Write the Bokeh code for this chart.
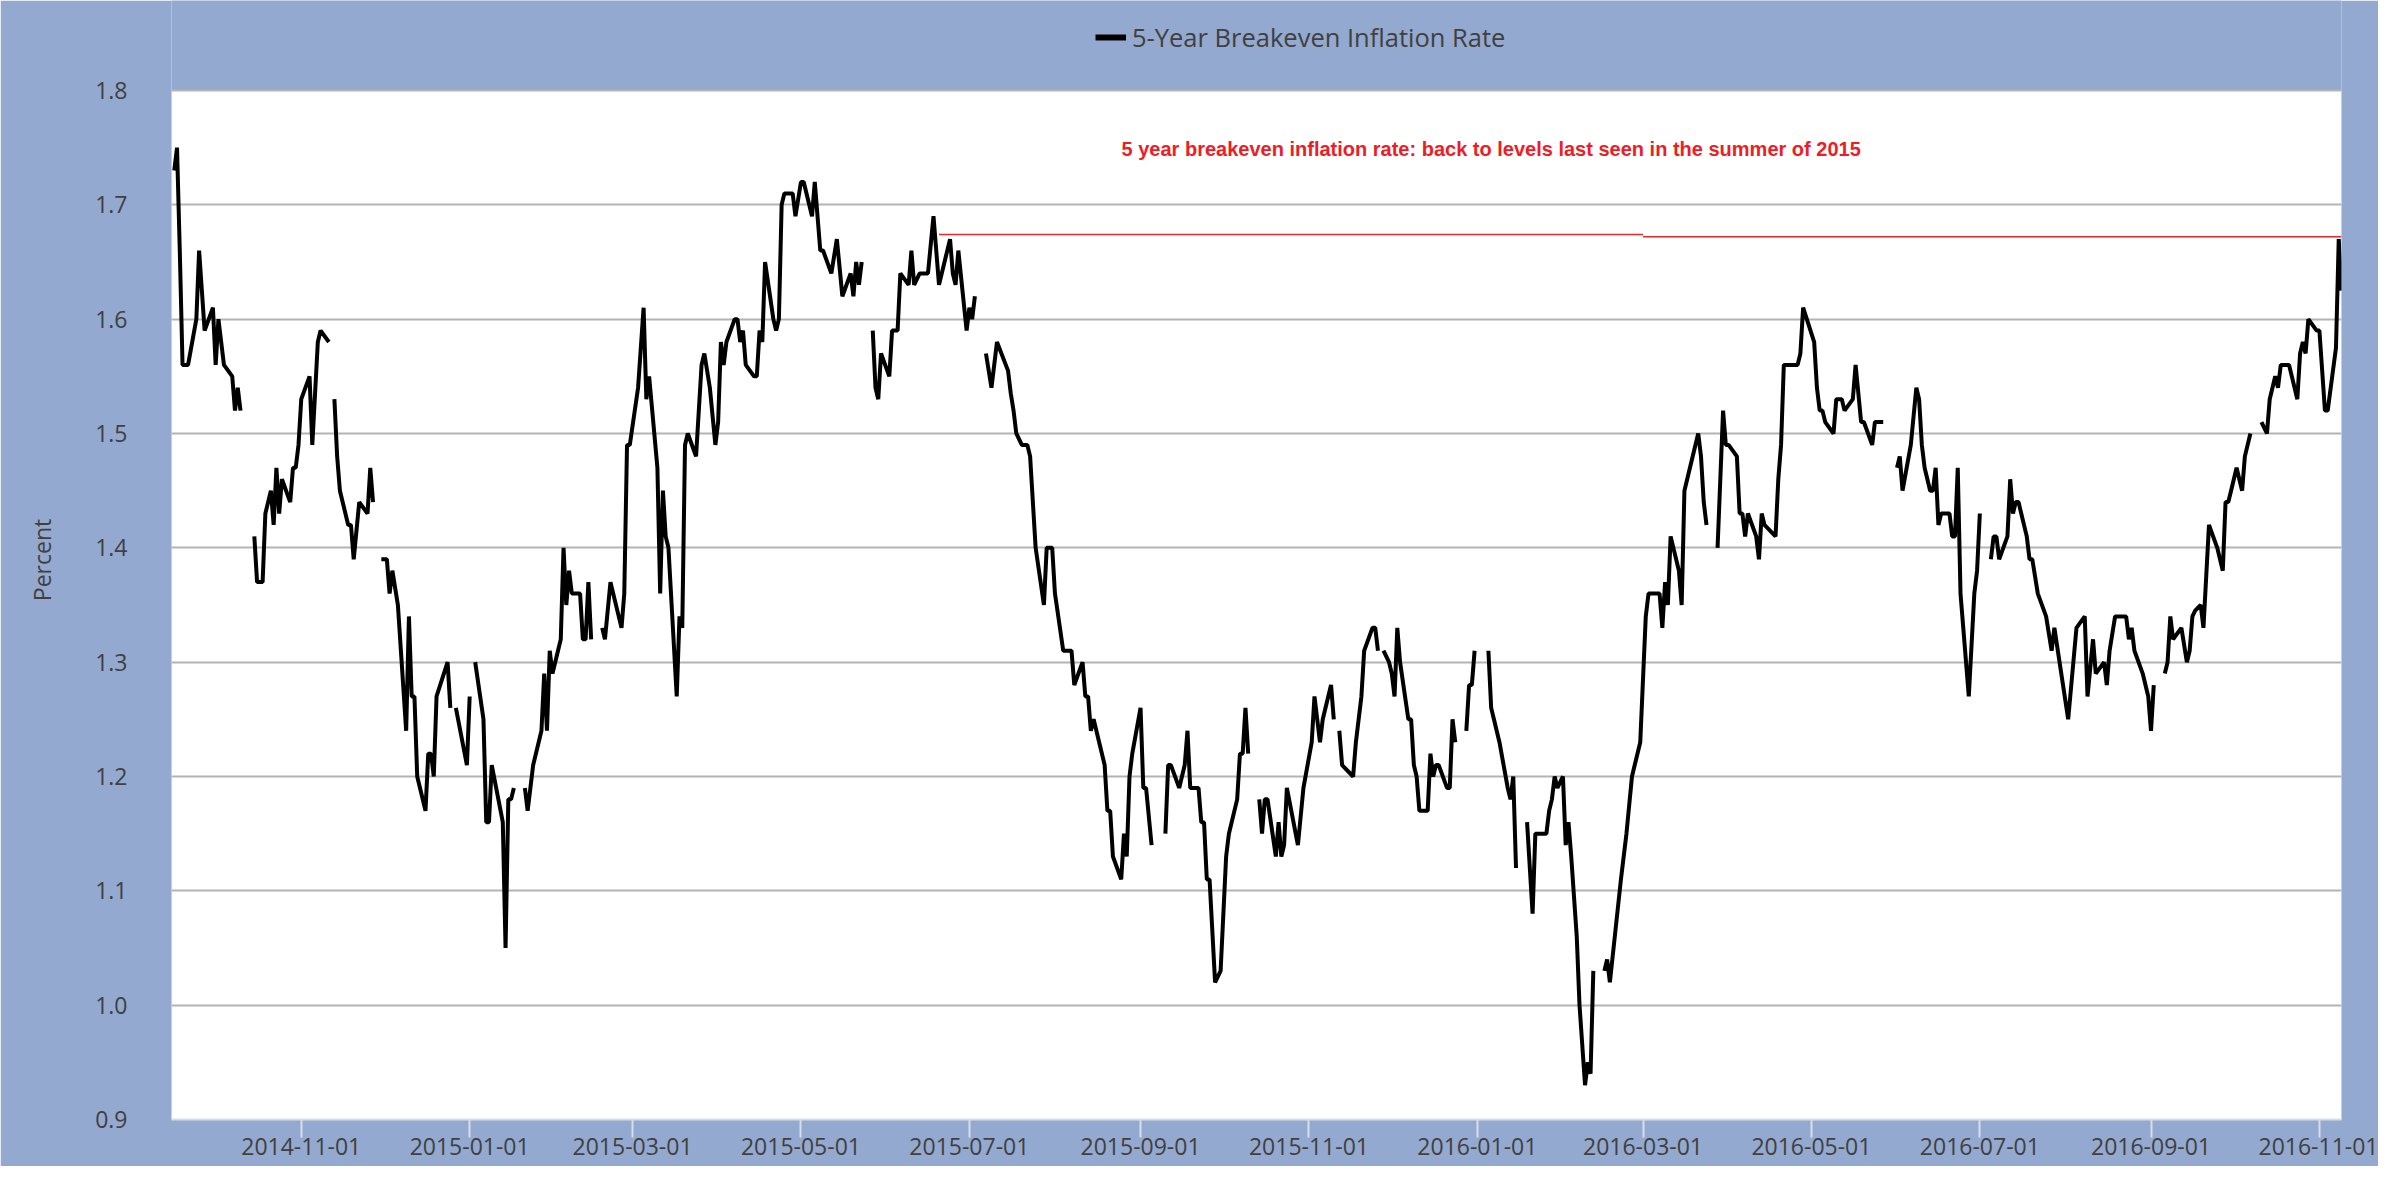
import numpy as np
import pandas as pd
from bokeh.plotting import figure
from bokeh.models import (Range1d, FixedTicker, DatetimeTickFormatter, PrintfTickFormatter,
                          Legend, LegendItem, Label, BoxAnnotation)
from bokeh.embed import file_html
from bokeh.resources import INLINE

# 5-year breakeven inflation rate (None = missing day, line breaks)
dates_2014 = [
    "2014-09-16", "2014-09-17", "2014-09-18", "2014-09-19", "2014-09-21", "2014-09-24",
    "2014-09-25", "2014-09-27", "2014-09-30", "2014-10-01", "2014-10-02", "2014-10-04",
    "2014-10-07", "2014-10-08", "2014-10-09", "2014-10-10", "2014-10-12", "2014-10-15",
    "2014-10-16", "2014-10-18", "2014-10-19", "2014-10-21", "2014-10-22", "2014-10-23",
    "2014-10-24", "2014-10-25", "2014-10-28", "2014-10-29", "2014-10-30", "2014-10-31",
    "2014-11-01", "2014-11-04", "2014-11-05", "2014-11-07", "2014-11-08", "2014-11-11",
    "2014-11-12", "2014-11-13", "2014-11-14", "2014-11-15", "2014-11-18", "2014-11-19",
    "2014-11-20", "2014-11-22", "2014-11-25", "2014-11-26", "2014-11-27", "2014-11-28",
    "2014-11-30", "2014-12-02", "2014-12-03", "2014-12-04", "2014-12-06", "2014-12-09",
    "2014-12-10", "2014-12-11", "2014-12-12", "2014-12-13", "2014-12-16", "2014-12-17",
    "2014-12-18", "2014-12-19", "2014-12-20", "2014-12-24", "2014-12-25", "2014-12-26",
    "2014-12-27", "2014-12-31",
]
rate_2014 = [
    1.73, 1.75, 1.66, 1.56, 1.56, 1.60,
    1.66, 1.59, 1.61, 1.56, 1.60, 1.56,
    1.55, 1.52, 1.54, 1.52, None, 1.41,
    1.37, 1.37, 1.43, 1.45, 1.42, 1.47,
    1.43, 1.46, 1.44, 1.47, 1.47, 1.49,
    1.53, 1.55, 1.49, 1.58, 1.59, 1.58,
    None, 1.53, 1.48, 1.45, 1.42, 1.42,
    1.39, 1.44, 1.43, 1.47, 1.44, None,
    1.39, 1.39, 1.36, 1.38, 1.35, 1.24,
    1.34, 1.27, 1.27, 1.20, 1.17, 1.22,
    1.22, 1.20, 1.27, 1.30, 1.26, None,
    1.26, 1.21,
]

dates_2015 = [
    "2015-01-01", "2015-01-02", "2015-01-03", "2015-01-06", "2015-01-07", "2015-01-08",
    "2015-01-09", "2015-01-13", "2015-01-14", "2015-01-15", "2015-01-16", "2015-01-17",
    "2015-01-19", "2015-01-21", "2015-01-22", "2015-01-24", "2015-01-27", "2015-01-28",
    "2015-01-29", "2015-01-30", "2015-01-31", "2015-02-03", "2015-02-04", "2015-02-05",
    "2015-02-06", "2015-02-07", "2015-02-10", "2015-02-11", "2015-02-12", "2015-02-13",
    "2015-02-14", "2015-02-16", "2015-02-18", "2015-02-19", "2015-02-21", "2015-02-25",
    "2015-02-26", "2015-02-27", "2015-02-28", "2015-03-03", "2015-03-05", "2015-03-06",
    "2015-03-07", "2015-03-10", "2015-03-11", "2015-03-12", "2015-03-13", "2015-03-14",
    "2015-03-17", "2015-03-18", "2015-03-19", "2015-03-20", "2015-03-21", "2015-03-24",
    "2015-03-26", "2015-03-27", "2015-03-29", "2015-03-31", "2015-04-01", "2015-04-02",
    "2015-04-03", "2015-04-04", "2015-04-07", "2015-04-08", "2015-04-09", "2015-04-10",
    "2015-04-11", "2015-04-14", "2015-04-15", "2015-04-16", "2015-04-17", "2015-04-18",
    "2015-04-21", "2015-04-22", "2015-04-23", "2015-04-24", "2015-04-25", "2015-04-28",
    "2015-04-29", "2015-05-01", "2015-05-02", "2015-05-05", "2015-05-06", "2015-05-08",
    "2015-05-09", "2015-05-12", "2015-05-14", "2015-05-16", "2015-05-19", "2015-05-20",
    "2015-05-21", "2015-05-22", "2015-05-23", "2015-05-25", "2015-05-27", "2015-05-28",
    "2015-05-29", "2015-05-30", "2015-06-02", "2015-06-03", "2015-06-05", "2015-06-06",
    "2015-06-09", "2015-06-10", "2015-06-11", "2015-06-13", "2015-06-16", "2015-06-18",
    "2015-06-20", "2015-06-22", "2015-06-24", "2015-06-25", "2015-06-26", "2015-06-27",
    "2015-06-30", "2015-07-01", "2015-07-02", "2015-07-03", "2015-07-05", "2015-07-07",
    "2015-07-09", "2015-07-11", "2015-07-15", "2015-07-16", "2015-07-17", "2015-07-18",
    "2015-07-20", "2015-07-22", "2015-07-23", "2015-07-25", "2015-07-28", "2015-07-29",
    "2015-07-31", "2015-08-01", "2015-08-04", "2015-08-07", "2015-08-08", "2015-08-11",
    "2015-08-12", "2015-08-13", "2015-08-14", "2015-08-15", "2015-08-19", "2015-08-20",
    "2015-08-21", "2015-08-22", "2015-08-25", "2015-08-26", "2015-08-27", "2015-08-28",
    "2015-08-29", "2015-09-01", "2015-09-02", "2015-09-03", "2015-09-05", "2015-09-07",
    "2015-09-10", "2015-09-11", "2015-09-12", "2015-09-15", "2015-09-17", "2015-09-18",
    "2015-09-19", "2015-09-22", "2015-09-23", "2015-09-24", "2015-09-25", "2015-09-26",
    "2015-09-28", "2015-09-30", "2015-10-02", "2015-10-03", "2015-10-06", "2015-10-07",
    "2015-10-08", "2015-10-09", "2015-10-10", "2015-10-12", "2015-10-14", "2015-10-15",
    "2015-10-16", "2015-10-17", "2015-10-20", "2015-10-21", "2015-10-22", "2015-10-23",
    "2015-10-24", "2015-10-28", "2015-10-30", "2015-11-02", "2015-11-03", "2015-11-05",
    "2015-11-06", "2015-11-09", "2015-11-10", "2015-11-11", "2015-11-12", "2015-11-13",
    "2015-11-17", "2015-11-18", "2015-11-20", "2015-11-21", "2015-11-24", "2015-11-25",
    "2015-11-26", "2015-11-27", "2015-11-28", "2015-11-30", "2015-12-01", "2015-12-02",
    "2015-12-03", "2015-12-04", "2015-12-07", "2015-12-08", "2015-12-09", "2015-12-10",
    "2015-12-11", "2015-12-14", "2015-12-15", "2015-12-16", "2015-12-17", "2015-12-18",
    "2015-12-21", "2015-12-22", "2015-12-23", "2015-12-24", "2015-12-26", "2015-12-28",
    "2015-12-29", "2015-12-30", "2015-12-31",
]
rate_2015 = [
    1.27, None, 1.30, 1.25, 1.16, 1.16,
    1.21, 1.16, 1.05, 1.18, 1.18, 1.19,
    None, 1.19, 1.17, 1.21, 1.24, 1.29,
    1.24, 1.31, 1.29, 1.32, 1.40, 1.35,
    1.38, 1.36, 1.36, 1.32, 1.32, 1.37,
    1.32, None, 1.33, 1.32, 1.37, 1.33,
    1.36, 1.49, 1.49, 1.54, 1.61, 1.53,
    1.55, 1.47, 1.36, 1.45, 1.41, 1.40,
    1.27, 1.34, 1.33, 1.49, 1.50, 1.48,
    1.56, 1.57, 1.54, 1.49, 1.51, 1.58,
    1.56, 1.58, 1.60, 1.60, 1.58, 1.59,
    1.56, 1.55, 1.55, 1.59, 1.58, 1.65,
    1.60, 1.59, 1.60, 1.70, 1.71, 1.71,
    1.69, 1.72, 1.72, 1.69, 1.72, 1.66,
    1.66, 1.64, 1.67, 1.62, 1.64, 1.62,
    1.65, 1.63, 1.65, None, 1.59, 1.54,
    1.53, 1.57, 1.55, 1.59, 1.59, 1.64,
    1.63, 1.66, 1.63, 1.64, 1.64, 1.69,
    1.63, 1.65, 1.67, 1.64, 1.63, 1.66,
    1.59, 1.61, 1.60, 1.62, None, 1.57,
    1.54, 1.58, 1.555, 1.535, 1.52, 1.50,
    1.49, 1.49, 1.48, 1.40, 1.35, 1.40,
    1.40, 1.36, 1.31, 1.31, 1.28, 1.30,
    1.27, 1.27, 1.24, 1.25, 1.21, 1.17,
    1.17, 1.13, 1.11, 1.15, 1.13, 1.20,
    1.22, 1.26, 1.19, 1.19, 1.14, None,
    1.15, 1.21, 1.21, 1.19, 1.21, 1.24,
    1.19, 1.19, 1.16, 1.16, 1.11, 1.11,
    1.02, 1.03, 1.13, 1.15, 1.18, 1.22,
    1.22, 1.26, 1.22, None, 1.18, 1.15,
    1.18, 1.18, 1.13, 1.16, 1.13, 1.14,
    1.19, 1.14, 1.19, 1.23, 1.27, 1.23,
    1.25, 1.28, 1.25, None, 1.24, 1.21,
    1.20, 1.23, 1.27, 1.31, 1.33, 1.33,
    1.31, None, 1.31, 1.30, 1.29, 1.27,
    1.33, 1.30, 1.25, 1.25, 1.21, 1.20,
    1.17, 1.17, 1.22, 1.20, 1.21, 1.21,
    1.19, 1.19, 1.25, 1.23, None, 1.24,
    1.28, 1.28, 1.31,
]

dates_2016 = [
    "2016-01-02", "2016-01-05", "2016-01-06", "2016-01-07", "2016-01-09", "2016-01-12",
    "2016-01-13", "2016-01-14", "2016-01-15", "2016-01-17", "2016-01-19", "2016-01-21",
    "2016-01-22", "2016-01-26", "2016-01-27", "2016-01-28", "2016-01-29", "2016-01-30",
    "2016-02-01", "2016-02-02", "2016-02-03", "2016-02-04", "2016-02-06", "2016-02-07",
    "2016-02-09", "2016-02-10", "2016-02-11", "2016-02-12", "2016-02-14", "2016-02-16",
    "2016-02-17", "2016-02-18", "2016-02-20", "2016-02-22", "2016-02-24", "2016-02-26",
    "2016-02-27", "2016-02-29", "2016-03-02", "2016-03-03", "2016-03-07", "2016-03-08",
    "2016-03-09", "2016-03-10", "2016-03-11", "2016-03-14", "2016-03-15", "2016-03-16",
    "2016-03-18", "2016-03-21", "2016-03-22", "2016-03-23", "2016-03-24", "2016-03-26",
    "2016-03-28", "2016-03-30", "2016-03-31", "2016-04-01", "2016-04-04", "2016-04-05",
    "2016-04-06", "2016-04-07", "2016-04-08", "2016-04-11", "2016-04-12", "2016-04-13",
    "2016-04-14", "2016-04-18", "2016-04-19", "2016-04-20", "2016-04-21", "2016-04-26",
    "2016-04-27", "2016-04-28", "2016-05-02", "2016-05-03", "2016-05-04", "2016-05-05",
    "2016-05-06", "2016-05-09", "2016-05-10", "2016-05-12", "2016-05-13", "2016-05-16",
    "2016-05-17", "2016-05-19", "2016-05-20", "2016-05-23", "2016-05-24", "2016-05-27",
    "2016-05-29", "2016-06-01", "2016-06-02", "2016-06-03", "2016-06-06", "2016-06-08",
    "2016-06-09", "2016-06-10", "2016-06-11", "2016-06-13", "2016-06-14", "2016-06-15",
    "2016-06-16", "2016-06-17", "2016-06-20", "2016-06-21", "2016-06-22", "2016-06-23",
    "2016-06-24", "2016-06-27", "2016-06-29", "2016-06-30", "2016-07-01", "2016-07-03",
    "2016-07-05", "2016-07-06", "2016-07-07", "2016-07-08", "2016-07-11", "2016-07-12",
    "2016-07-13", "2016-07-14", "2016-07-15", "2016-07-18", "2016-07-19", "2016-07-20",
    "2016-07-22", "2016-07-25", "2016-07-27", "2016-07-28", "2016-08-02", "2016-08-05",
    "2016-08-08", "2016-08-09", "2016-08-11", "2016-08-12", "2016-08-15", "2016-08-16",
    "2016-08-17", "2016-08-19", "2016-08-23", "2016-08-24", "2016-08-25", "2016-08-26",
    "2016-08-29", "2016-08-31", "2016-09-01", "2016-09-02", "2016-09-04", "2016-09-06",
    "2016-09-07", "2016-09-08", "2016-09-09", "2016-09-12", "2016-09-14", "2016-09-15",
    "2016-09-16", "2016-09-17", "2016-09-19", "2016-09-20", "2016-09-22", "2016-09-25",
    "2016-09-27", "2016-09-28", "2016-09-29", "2016-09-30", "2016-10-02", "2016-10-04",
    "2016-10-05", "2016-10-07", "2016-10-09", "2016-10-11", "2016-10-13", "2016-10-14",
    "2016-10-16", "2016-10-17", "2016-10-18", "2016-10-21", "2016-10-24", "2016-10-25",
    "2016-10-26", "2016-10-27", "2016-10-28", "2016-10-31", "2016-11-01", "2016-11-03",
    "2016-11-04", "2016-11-07", "2016-11-08", "2016-11-09",
]
rate_2016 = [
    None, 1.31, 1.26, 1.25, 1.23, 1.19,
    1.18, 1.20, 1.12, None, 1.16, 1.08,
    1.15, 1.15, 1.17, 1.18, 1.20, 1.19,
    1.20, 1.14, 1.16, 1.13, 1.06, 1.00,
    0.93, 0.95, 0.94, 1.03, None, 1.03,
    1.04, 1.02, 1.065, 1.11, 1.15, 1.20,
    1.21, 1.23, 1.34, 1.36, 1.36, 1.33,
    1.37, 1.35, 1.41, 1.38, 1.35, 1.45,
    1.47, 1.50, 1.48, 1.44, 1.42, None,
    1.40, 1.52, 1.49, 1.49, 1.48, 1.43,
    1.43, 1.41, 1.43, 1.41, 1.39, 1.43,
    1.42, 1.41, 1.46, 1.49, 1.56, 1.56,
    1.57, 1.61, 1.58, 1.54, 1.52, 1.52,
    1.51, 1.50, 1.53, 1.53, 1.52, 1.53,
    1.56, 1.51, 1.51, 1.49, 1.51, 1.51,
    None, 1.47, 1.48, 1.45, 1.49, 1.54,
    1.53, 1.49, 1.47, 1.45, 1.45, 1.47,
    1.42, 1.43, 1.43, 1.41, 1.41, 1.47,
    1.36, 1.27, 1.36, 1.38, 1.43, None,
    1.39, 1.41, 1.41, 1.39, 1.41, 1.46,
    1.43, 1.44, 1.44, 1.41, 1.39, 1.39,
    1.36, 1.34, 1.31, 1.33, 1.25, 1.33,
    1.34, 1.27, 1.32, 1.29, 1.30, 1.28,
    1.31, 1.34, 1.34, 1.32, 1.33, 1.31,
    1.29, 1.27, 1.24, 1.28, None, 1.29,
    1.30, 1.34, 1.32, 1.33, 1.30, 1.31,
    1.34, 1.345, 1.35, 1.33, 1.42, 1.40,
    1.38, 1.44, 1.44, 1.45, 1.47, 1.45,
    1.48, 1.50, None, 1.51, 1.50, 1.53,
    1.55, 1.54, 1.56, 1.56, 1.53, 1.57,
    1.58, 1.57, 1.60, 1.59, 1.59, 1.52,
    1.52, 1.575, 1.67, 1.625,
]

# red reference line: level last seen in summer 2015
ref_start = ["2015-06-20", "2016-03-01"]
ref_end = ["2016-03-01", "2016-11-09"]
ref_level = [1.674, 1.672]

tick_dates = ["2014-11-01", "2015-01-01", "2015-03-01", "2015-05-01", "2015-07-01",
              "2015-09-01", "2015-11-01", "2016-01-01", "2016-03-01", "2016-05-01",
              "2016-07-01", "2016-09-01", "2016-11-01"]
y_ticks = [0.9, 1.0, 1.1, 1.2, 1.3, 1.4, 1.5, 1.6, 1.7, 1.8]

x = pd.to_datetime(dates_2014 + dates_2015 + dates_2016)
y = np.array(rate_2014 + rate_2015 + rate_2016, dtype=float)

bg = "#94a9cf"
txt = "#404040"

# frame runs to the top edge; only the part up to 1.8 is white, the band above
# keeps the border colour and holds the legend
p = figure(width=2378, height=1166, x_axis_type="datetime",
           x_range=Range1d(pd.Timestamp("2014-09-15"), pd.Timestamp("2016-11-09")),
           y_range=Range1d(0.9, 1.8787),
           output_backend="svg", toolbar_location=None,
           min_border_left=171, min_border_right=37, min_border_top=0, min_border_bottom=47)
p.border_fill_color = bg
p.background_fill_color = bg
p.outline_line_color = None

p.add_layout(BoxAnnotation(top=1.8, fill_color="white", fill_alpha=1.0, line_color=None,
                           level="image"))

line = p.line(x, y, color="black", line_width=4)
# thicker swatch for the legend only (single missing point, draws nothing in the plot)
legend_swatch = p.line(x[:1], [np.nan], color="black", line_width=6)
p.segment(x0=pd.to_datetime(ref_start), y0=ref_level, x1=pd.to_datetime(ref_end), y1=ref_level,
          color="#e8262c", line_width=1.5)

p.add_layout(Label(x=pd.Timestamp("2016-01-06"), y=1.749,
                   text="5 year breakeven inflation rate: back to levels last seen in the summer of 2015",
                   text_align="center", text_baseline="middle", text_color="#ee1c25",
                   text_font="Liberation Sans Narrow, Liberation Sans", text_font_style="bold",
                   text_font_size="20px"))

# axes
tick_ms = [pd.Timestamp(d).value // 10**6 for d in tick_dates]
p.xaxis.ticker = FixedTicker(ticks=tick_ms)
fmt = "%Y-%m-%d"
p.xaxis.formatter = DatetimeTickFormatter(days=fmt, months=fmt, years=fmt)
p.xaxis.axis_line_color = "#d6deea"
p.xaxis.axis_line_width = 2
p.xaxis.major_tick_line_color = "#d6deea"
p.xaxis.major_tick_line_width = 2
p.xaxis.major_tick_out = 18
p.xaxis.major_tick_in = 0
p.xaxis.minor_tick_line_color = None
p.xaxis.major_label_standoff = 0

p.yaxis.ticker = FixedTicker(ticks=y_ticks)
p.yaxis.formatter = PrintfTickFormatter(format="%.1f")
p.yaxis.axis_line_color = None
p.yaxis.major_tick_line_color = None
p.yaxis.minor_tick_line_color = None
p.yaxis.major_label_standoff = 38
p.yaxis.axis_label = "Percent"
p.yaxis.axis_label_standoff = 34
p.yaxis.axis_label_text_font_style = "normal"

for ax in (p.xaxis, p.yaxis):
    ax.major_label_text_font = "Open Sans"
    ax.major_label_text_font_size = "23px"
    ax.major_label_text_color = txt
    ax.axis_label_text_font = "Open Sans"
    ax.axis_label_text_font_size = "23px"
    ax.axis_label_text_color = txt

p.xgrid.grid_line_color = None
p.ygrid.grid_line_color = "#b4b4b4"
p.ygrid.grid_line_width = 2

# legend in the top band, screen units from the frame's bottom-left
legend = Legend(items=[LegendItem(label="5-Year Breakeven Inflation Rate", renderers=[legend_swatch])],
                location=(924, 1065), orientation="horizontal",
                margin=0, padding=5, glyph_width=31, label_standoff=6,
                border_line_color=None, background_fill_alpha=0,
                label_text_font="Open Sans", label_text_font_size="25.5px", label_text_color=txt)
p.add_layout(legend)

open("out.html", "w").write(file_html(p, INLINE))
